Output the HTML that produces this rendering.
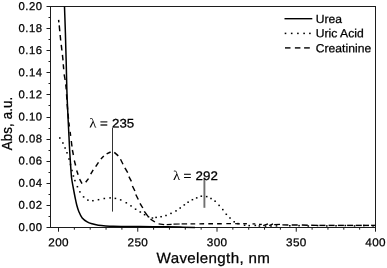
<!DOCTYPE html><html><head><meta charset="utf-8"><style>html,body{margin:0;padding:0;background:#fff;overflow:hidden}body{width:387px;height:268px;position:relative}</style></head><body><svg width="387" height="268" viewBox="0 0 387 268" style="position:absolute;left:0;top:0">
<rect width="387" height="268" fill="#fff"/>
<g stroke="#1c1c1c" stroke-width="1" fill="none">
<rect x="50.5" y="6.5" width="325.0" height="221.0"/>
<line x1="46.5" y1="227.5" x2="50.5" y2="227.5"/>
<line x1="48.5" y1="216.5" x2="50.5" y2="216.5"/>
<line x1="46.5" y1="205.5" x2="50.5" y2="205.5"/>
<line x1="48.5" y1="194.5" x2="50.5" y2="194.5"/>
<line x1="46.5" y1="183.5" x2="50.5" y2="183.5"/>
<line x1="48.5" y1="172.5" x2="50.5" y2="172.5"/>
<line x1="46.5" y1="161.5" x2="50.5" y2="161.5"/>
<line x1="48.5" y1="150.5" x2="50.5" y2="150.5"/>
<line x1="46.5" y1="139.5" x2="50.5" y2="139.5"/>
<line x1="48.5" y1="128.5" x2="50.5" y2="128.5"/>
<line x1="46.5" y1="117.5" x2="50.5" y2="117.5"/>
<line x1="48.5" y1="105.5" x2="50.5" y2="105.5"/>
<line x1="46.5" y1="94.5" x2="50.5" y2="94.5"/>
<line x1="48.5" y1="83.5" x2="50.5" y2="83.5"/>
<line x1="46.5" y1="72.5" x2="50.5" y2="72.5"/>
<line x1="48.5" y1="61.5" x2="50.5" y2="61.5"/>
<line x1="46.5" y1="50.5" x2="50.5" y2="50.5"/>
<line x1="48.5" y1="39.5" x2="50.5" y2="39.5"/>
<line x1="46.5" y1="28.5" x2="50.5" y2="28.5"/>
<line x1="48.5" y1="17.5" x2="50.5" y2="17.5"/>
<line x1="46.5" y1="6.5" x2="50.5" y2="6.5"/>
<line x1="58.50" y1="227.5" x2="58.50" y2="231.7"/>
<line x1="74.35" y1="227.5" x2="74.35" y2="229.7"/>
<line x1="90.20" y1="227.5" x2="90.20" y2="229.7"/>
<line x1="106.05" y1="227.5" x2="106.05" y2="229.7"/>
<line x1="121.90" y1="227.5" x2="121.90" y2="229.7"/>
<line x1="137.75" y1="227.5" x2="137.75" y2="231.7"/>
<line x1="153.60" y1="227.5" x2="153.60" y2="229.7"/>
<line x1="169.45" y1="227.5" x2="169.45" y2="229.7"/>
<line x1="185.30" y1="227.5" x2="185.30" y2="229.7"/>
<line x1="201.15" y1="227.5" x2="201.15" y2="229.7"/>
<line x1="217.00" y1="227.5" x2="217.00" y2="231.7"/>
<line x1="232.85" y1="227.5" x2="232.85" y2="229.7"/>
<line x1="248.70" y1="227.5" x2="248.70" y2="229.7"/>
<line x1="264.55" y1="227.5" x2="264.55" y2="229.7"/>
<line x1="280.40" y1="227.5" x2="280.40" y2="229.7"/>
<line x1="296.25" y1="227.5" x2="296.25" y2="231.7"/>
<line x1="312.10" y1="227.5" x2="312.10" y2="229.7"/>
<line x1="327.95" y1="227.5" x2="327.95" y2="229.7"/>
<line x1="343.80" y1="227.5" x2="343.80" y2="229.7"/>
<line x1="359.65" y1="227.5" x2="359.65" y2="229.7"/>
<line x1="375.50" y1="227.5" x2="375.50" y2="231.7"/>
</g>
<path d="M64.50,6.50 C64.58,8.92 64.85,16.58 65.00,21.00 C65.15,25.42 65.27,28.50 65.40,33.00 C65.53,37.50 65.67,43.17 65.80,48.00 C65.93,52.83 66.02,54.83 66.20,62.00 C66.38,69.17 66.67,83.33 66.90,91.00 C67.13,98.67 67.38,103.00 67.60,108.00 C67.82,113.00 67.97,116.17 68.20,121.00 C68.43,125.83 68.75,132.00 69.00,137.00 C69.25,142.00 69.43,146.33 69.70,151.00 C69.97,155.67 70.28,160.50 70.60,165.00 C70.92,169.50 71.15,174.17 71.60,178.00 C72.05,181.83 72.70,184.67 73.30,188.00 C73.90,191.33 74.62,195.13 75.20,198.00 C75.78,200.87 76.17,202.87 76.80,205.20 C77.43,207.53 78.10,209.87 79.00,212.00 C79.90,214.13 80.83,216.35 82.20,218.00 C83.57,219.65 85.55,220.93 87.20,221.90 C88.85,222.87 90.25,223.26 92.10,223.80 C93.95,224.34 96.02,224.80 98.30,225.15 C100.58,225.50 103.32,225.71 105.80,225.90 C108.28,226.09 110.00,226.20 113.20,226.30 C116.40,226.40 120.53,226.45 125.00,226.50 C129.47,226.55 134.17,226.57 140.00,226.60 C145.83,226.63 153.33,226.62 160.00,226.70 C166.67,226.78 174.17,226.97 180.00,227.10 C185.83,227.23 192.50,227.43 195.00,227.50" stroke="#000" stroke-width="1.5" fill="none" stroke-linejoin="round"/>
<g stroke="#000" stroke-width="1.45" fill="none" stroke-linecap="butt">
<line x1="58.60" y1="19.8" x2="58.88" y2="22.3"/>
<line x1="59.23" y1="25.4" x2="59.78" y2="31.2"/>
<line x1="60.14" y1="35" x2="60.72" y2="40.5"/>
<line x1="61.24" y1="44.9" x2="61.91" y2="50.5"/>
<line x1="62.44" y1="54.8" x2="63.03" y2="60.4"/>
<line x1="63.29" y1="64.3" x2="63.69" y2="69.3"/>
<line x1="64.14" y1="74.3" x2="65.13" y2="80"/>
<line x1="65.74" y1="84.4" x2="66.24" y2="89.4"/>
<line x1="66.56" y1="94.3" x2="66.88" y2="99.6"/>
<line x1="67.14" y1="104" x2="67.61" y2="109.5"/>
<line x1="67.98" y1="113.5" x2="68.45" y2="118.7"/>
<line x1="68.78" y1="122.3" x2="69.37" y2="126.5"/>
<line x1="70.13" y1="131.8" x2="70.65" y2="135.8"/>
<line x1="71.29" y1="141" x2="71.97" y2="146.5"/>
<line x1="72.40" y1="150" x2="73.40" y2="155"/>
<line x1="74.30" y1="160.5" x2="75.60" y2="165.5"/>
<line x1="76.70" y1="170.5" x2="78.10" y2="174.8"/>
<line x1="79.6" y1="179.2" x2="82" y2="183.6"/>
<line x1="85.7" y1="182.3" x2="88.5" y2="178.6"/>
<line x1="90.7" y1="174.2" x2="93.2" y2="169.9"/>
<line x1="95.7" y1="166.7" x2="98.5" y2="162.4"/>
<line x1="100.9" y1="159" x2="103.8" y2="156.1"/>
<line x1="106.6" y1="153.9" x2="110.6" y2="152"/>
<line x1="114.3" y1="152.4" x2="118.3" y2="155.9"/>
<line x1="120.5" y1="159.2" x2="123" y2="164.2"/>
<line x1="124.9" y1="167.9" x2="127.7" y2="172.7"/>
<line x1="128.9" y1="176.7" x2="131.4" y2="181.4"/>
<line x1="132.4" y1="186" x2="134.9" y2="191"/>
<line x1="135.8" y1="194.5" x2="138.3" y2="199.5"/>
<line x1="140" y1="203.3" x2="142.8" y2="208"/>
<line x1="144.3" y1="211.4" x2="148" y2="216.4"/>
<line x1="150.5" y1="219.2" x2="154.9" y2="222"/>
<line stroke-width="1.25" x1="158.6" y1="223.9" x2="164.2" y2="224.6"/>
<line stroke-width="1.25" x1="166.7" y1="224.6" x2="171.6" y2="224.4"/>
<line stroke-width="1.25" x1="173.5" y1="224.2" x2="179.7" y2="224.0"/>
<line stroke-width="1.25" x1="181.6" y1="223.9" x2="187.1" y2="223.9"/>
<line stroke-width="1.3" x1="190.5" y1="223.80" x2="195.2" y2="223.79"/>
<line stroke-width="1.3" x1="199.4" y1="223.78" x2="204.1" y2="223.77"/>
<line stroke-width="1.3" x1="208.3" y1="223.76" x2="213.0" y2="223.75"/>
<line stroke-width="1.3" x1="217.1" y1="223.74" x2="221.79999999999998" y2="223.73"/>
<line stroke-width="1.3" x1="226.3" y1="223.72" x2="231.0" y2="223.71"/>
<line stroke-width="1.3" x1="235.2" y1="223.71" x2="239.89999999999998" y2="223.86"/>
<line stroke-width="1.45" x1="282.4" y1="224.87" x2="288.4" y2="224.91"/>
<line stroke-width="1.45" x1="291.7" y1="224.94" x2="297.7" y2="224.98"/>
<line stroke-width="1.45" x1="301.8" y1="225.05" x2="307.8" y2="225.21"/>
<line stroke-width="1.45" x1="311.2" y1="225.30" x2="317.2" y2="225.40"/>
<line stroke-width="1.45" x1="319.4" y1="225.40" x2="325.4" y2="225.40"/>
<line stroke-width="1.45" x1="328.6" y1="225.40" x2="334.6" y2="225.40"/>
<line stroke-width="1.45" x1="337.9" y1="225.40" x2="343.9" y2="225.40"/>
<line stroke-width="1.45" x1="347.1" y1="225.40" x2="353.1" y2="225.40"/>
<line stroke-width="1.45" x1="355.8" y1="225.40" x2="361.8" y2="225.40"/>
<line stroke-width="1.45" x1="363.0" y1="225.40" x2="369.0" y2="225.40"/>
<line stroke-width="1.45" x1="371.1" y1="225.40" x2="375.2" y2="225.40"/>
<line stroke-width="1.3" x1="243.2" y1="223.7" x2="246.9" y2="223.7"/>
<line stroke-width="1.3" x1="252.5" y1="223.9" x2="255.3" y2="223.9"/>
<line stroke-width="1.3" x1="259" y1="224.4" x2="261.8" y2="224.4"/>
<line stroke-width="1.3" x1="263.2" y1="225.6" x2="268" y2="223.8"/>
<line stroke-width="1.3" x1="269.2" y1="225.6" x2="273" y2="223.9"/>
<line stroke-width="1.3" x1="274.2" y1="224.6" x2="280" y2="224.3"/>
</g>
<g fill="#000">
<rect x="59.00" y="137.25" width="1.6" height="1.5"/>
<rect x="62.10" y="142.25" width="1.6" height="1.5"/>
<rect x="64.30" y="147.25" width="1.6" height="1.5"/>
<rect x="66.20" y="152.05" width="1.6" height="1.5"/>
<rect x="68.20" y="158.25" width="1.6" height="1.5"/>
<rect x="69.70" y="163.75" width="1.6" height="1.5"/>
<rect x="71.20" y="169.75" width="1.6" height="1.5"/>
<rect x="72.60" y="175.25" width="1.6" height="1.5"/>
<rect x="74.10" y="179.85" width="1.6" height="1.5"/>
<rect x="76.60" y="185.95" width="1.6" height="1.5"/>
<rect x="79.10" y="191.15" width="1.6" height="1.5"/>
<rect x="82.80" y="196.15" width="1.6" height="1.5"/>
<rect x="87.10" y="199.35" width="1.6" height="1.5"/>
<rect x="92.10" y="199.95" width="1.6" height="1.5"/>
<rect x="97.70" y="198.95" width="1.6" height="1.5"/>
<rect x="103.50" y="197.75" width="1.6" height="1.5"/>
<rect x="109.30" y="197.15" width="1.6" height="1.5"/>
<rect x="114.60" y="197.65" width="1.6" height="1.5"/>
<rect x="119.90" y="199.15" width="1.6" height="1.5"/>
<rect x="125.50" y="202.05" width="1.6" height="1.5"/>
<rect x="130.20" y="205.15" width="1.6" height="1.5"/>
<rect x="134.80" y="208.45" width="1.6" height="1.5"/>
<rect x="139.50" y="211.25" width="1.6" height="1.5"/>
<rect x="143.80" y="213.95" width="1.6" height="1.5"/>
<rect x="147.70" y="216.05" width="1.6" height="1.5"/>
<rect x="151.60" y="217.25" width="1.6" height="1.5"/>
<rect x="155.30" y="216.65" width="1.6" height="1.5"/>
<rect x="160.30" y="215.95" width="1.6" height="1.5"/>
<rect x="165.20" y="214.75" width="1.6" height="1.5"/>
<rect x="170.20" y="212.65" width="1.6" height="1.5"/>
<rect x="175.20" y="210.15" width="1.6" height="1.5"/>
<rect x="179.40" y="207.25" width="1.6" height="1.5"/>
<rect x="183.50" y="204.15" width="1.6" height="1.5"/>
<rect x="187.30" y="201.45" width="1.6" height="1.5"/>
<rect x="191.60" y="198.95" width="1.6" height="1.5"/>
<rect x="195.90" y="197.15" width="1.6" height="1.5"/>
<rect x="200.50" y="195.45" width="1.6" height="1.5"/>
<rect x="205.90" y="195.85" width="1.6" height="1.5"/>
<rect x="210.20" y="197.75" width="1.6" height="1.5"/>
<rect x="214.30" y="200.45" width="1.6" height="1.5"/>
<rect x="218.30" y="204.65" width="1.6" height="1.5"/>
<rect x="222.00" y="208.85" width="1.6" height="1.5"/>
<rect x="225.50" y="213.55" width="1.6" height="1.5"/>
<rect x="229.20" y="217.25" width="1.6" height="1.5"/>
<rect x="233.40" y="221.05" width="1.6" height="1.5"/>
<rect x="237.20" y="222.85" width="1.6" height="1.5"/>
<rect x="243.80" y="224.45" width="1.6" height="1.5"/>
<rect x="248.40" y="224.85" width="1.6" height="1.5"/>
<rect x="254.50" y="224.65" width="1.6" height="1.5"/>
<rect x="258.60" y="225.25" width="1.6" height="1.5"/>
<rect x="264.70" y="225.35" width="1.6" height="1.5"/>
<rect x="270.20" y="225.25" width="1.6" height="1.5"/>
<rect x="275.70" y="225.15" width="1.6" height="1.5"/>
<rect x="289.00" y="225.01" width="1.6" height="1.5"/>
<rect x="298.25" y="224.87" width="1.6" height="1.5"/>
<rect x="307.50" y="225.27" width="1.6" height="1.5"/>
<rect x="316.75" y="224.81" width="1.6" height="1.5"/>
<rect x="326.00" y="225.18" width="1.6" height="1.5"/>
<rect x="335.25" y="225.04" width="1.6" height="1.5"/>
<rect x="344.50" y="224.80" width="1.6" height="1.5"/>
<rect x="353.75" y="225.16" width="1.6" height="1.5"/>
<rect x="363.00" y="224.78" width="1.6" height="1.5"/>
<rect x="372.25" y="225.10" width="1.6" height="1.5"/>
</g>
<line x1="112.5" y1="127.8" x2="112.5" y2="211.6" stroke="#333" stroke-width="1"/>
<line x1="204.4" y1="177.5" x2="204.4" y2="207.8" stroke="#707070" stroke-width="1.9"/>
<line x1="284.5" y1="18.7" x2="312.3" y2="18.7" stroke="#000" stroke-width="1.4"/>
<rect x="284.70" y="32.65" width="1.6" height="1.5" fill="#000"/>
<rect x="290.90" y="32.65" width="1.6" height="1.5" fill="#000"/>
<rect x="297.10" y="32.65" width="1.6" height="1.5" fill="#000"/>
<rect x="303.30" y="32.65" width="1.6" height="1.5" fill="#000"/>
<rect x="309.10" y="32.65" width="1.6" height="1.5" fill="#000"/>
<line x1="285" y1="47.9" x2="290.5" y2="47.9" stroke="#000" stroke-width="1.4"/>
<line x1="294.9" y1="47.9" x2="300.4" y2="47.9" stroke="#000" stroke-width="1.4"/>
<line x1="304.1" y1="47.9" x2="309.8" y2="47.9" stroke="#000" stroke-width="1.4"/>
<text font-family="Liberation Sans, Arial, sans-serif" fill="#000" stroke="#000" stroke-width="0.25" font-size="11.8" text-anchor="start" transform="translate(315.80,23.00) rotate(0.03) scale(1.03,1)">Urea</text>
<text font-family="Liberation Sans, Arial, sans-serif" fill="#000" stroke="#000" stroke-width="0.25" font-size="11.8" text-anchor="start" transform="translate(315.80,37.30) rotate(0.03) scale(1.03,1)">Uric Acid</text>
<text font-family="Liberation Sans, Arial, sans-serif" fill="#000" stroke="#000" stroke-width="0.25" font-size="11.8" text-anchor="start" transform="translate(315.80,52.20) rotate(0.03) scale(1.03,1)">Creatinine</text>
<text font-family="Liberation Sans, Arial, sans-serif" fill="#000" stroke="#000" stroke-width="0.25" font-size="11.3" letter-spacing="0.5" text-anchor="end" transform="translate(42.50,230.90) rotate(0.03)">0.00</text>
<text font-family="Liberation Sans, Arial, sans-serif" fill="#000" stroke="#000" stroke-width="0.25" font-size="11.3" letter-spacing="0.5" text-anchor="end" transform="translate(42.50,208.80) rotate(0.03)">0.02</text>
<text font-family="Liberation Sans, Arial, sans-serif" fill="#000" stroke="#000" stroke-width="0.25" font-size="11.3" letter-spacing="0.5" text-anchor="end" transform="translate(42.50,186.70) rotate(0.03)">0.04</text>
<text font-family="Liberation Sans, Arial, sans-serif" fill="#000" stroke="#000" stroke-width="0.25" font-size="11.3" letter-spacing="0.5" text-anchor="end" transform="translate(42.50,164.60) rotate(0.03)">0.06</text>
<text font-family="Liberation Sans, Arial, sans-serif" fill="#000" stroke="#000" stroke-width="0.25" font-size="11.3" letter-spacing="0.5" text-anchor="end" transform="translate(42.50,142.50) rotate(0.03)">0.08</text>
<text font-family="Liberation Sans, Arial, sans-serif" fill="#000" stroke="#000" stroke-width="0.25" font-size="11.3" letter-spacing="0.5" text-anchor="end" transform="translate(42.50,120.40) rotate(0.03)">0.10</text>
<text font-family="Liberation Sans, Arial, sans-serif" fill="#000" stroke="#000" stroke-width="0.25" font-size="11.3" letter-spacing="0.5" text-anchor="end" transform="translate(42.50,98.30) rotate(0.03)">0.12</text>
<text font-family="Liberation Sans, Arial, sans-serif" fill="#000" stroke="#000" stroke-width="0.25" font-size="11.3" letter-spacing="0.5" text-anchor="end" transform="translate(42.50,76.20) rotate(0.03)">0.14</text>
<text font-family="Liberation Sans, Arial, sans-serif" fill="#000" stroke="#000" stroke-width="0.25" font-size="11.3" letter-spacing="0.5" text-anchor="end" transform="translate(42.50,54.10) rotate(0.03)">0.16</text>
<text font-family="Liberation Sans, Arial, sans-serif" fill="#000" stroke="#000" stroke-width="0.25" font-size="11.3" letter-spacing="0.5" text-anchor="end" transform="translate(42.50,32.00) rotate(0.03)">0.18</text>
<text font-family="Liberation Sans, Arial, sans-serif" fill="#000" stroke="#000" stroke-width="0.25" font-size="11.3" letter-spacing="0.5" text-anchor="end" transform="translate(42.50,9.90) rotate(0.03)">0.20</text>
<text font-family="Liberation Sans, Arial, sans-serif" fill="#000" stroke="#000" stroke-width="0.25" font-size="11.4" letter-spacing="0.35" text-anchor="middle" transform="translate(58.60,246.20) rotate(0.03) scale(1.03,1)">200</text>
<text font-family="Liberation Sans, Arial, sans-serif" fill="#000" stroke="#000" stroke-width="0.25" font-size="11.4" letter-spacing="0.35" text-anchor="middle" transform="translate(137.85,246.20) rotate(0.03) scale(1.03,1)">250</text>
<text font-family="Liberation Sans, Arial, sans-serif" fill="#000" stroke="#000" stroke-width="0.25" font-size="11.4" letter-spacing="0.35" text-anchor="middle" transform="translate(217.10,246.20) rotate(0.03) scale(1.03,1)">300</text>
<text font-family="Liberation Sans, Arial, sans-serif" fill="#000" stroke="#000" stroke-width="0.25" font-size="11.4" letter-spacing="0.35" text-anchor="middle" transform="translate(296.35,246.20) rotate(0.03) scale(1.03,1)">350</text>
<text font-family="Liberation Sans, Arial, sans-serif" fill="#000" stroke="#000" stroke-width="0.25" font-size="11.4" letter-spacing="0.35" text-anchor="middle" transform="translate(375.60,246.20) rotate(0.03) scale(1.03,1)">400</text>
<text font-family="Liberation Sans, Arial, sans-serif" fill="#000" stroke="#000" stroke-width="0.25" font-size="12.4" text-anchor="start" transform="translate(89.30,127.40) rotate(0.03) scale(1.1,1)"><tspan font-family="Liberation Serif, serif" font-size="13.5" stroke-width="0">λ</tspan></text>
<text font-family="Liberation Sans, Arial, sans-serif" fill="#000" stroke="#000" stroke-width="0.25" font-size="12.4" text-anchor="start" transform="translate(100.00,127.40) rotate(0.03) scale(1.075,1)">=</text>
<text font-family="Liberation Sans, Arial, sans-serif" fill="#000" stroke="#000" stroke-width="0.25" font-size="12.4" text-anchor="start" transform="translate(112.00,127.40) rotate(0.03) scale(1.075,1)">235</text>
<text font-family="Liberation Sans, Arial, sans-serif" fill="#000" stroke="#000" stroke-width="0.25" font-size="12.4" text-anchor="start" transform="translate(172.90,179.90) rotate(0.03) scale(1.1,1)"><tspan font-family="Liberation Serif, serif" font-size="13.5" stroke-width="0">λ</tspan></text>
<text font-family="Liberation Sans, Arial, sans-serif" fill="#000" stroke="#000" stroke-width="0.25" font-size="12.4" text-anchor="start" transform="translate(183.60,179.90) rotate(0.03) scale(1.075,1)">=</text>
<text font-family="Liberation Sans, Arial, sans-serif" fill="#000" stroke="#000" stroke-width="0.25" font-size="12.4" text-anchor="start" transform="translate(195.60,179.90) rotate(0.03) scale(1.075,1)">292</text>
<text font-family="Liberation Sans, Arial, sans-serif" fill="#000" stroke="#000" stroke-width="0.25" font-size="14.8" letter-spacing="0.33" text-anchor="start" transform="translate(156.60,263.00) rotate(0.03) scale(1.024,1)">Wavelength, nm</text>
<text font-family="Liberation Sans, Arial, sans-serif" fill="#000" stroke="#000" stroke-width="0.25" font-size="13.9" letter-spacing="0.15" text-anchor="start" transform="translate(11.90,150.20) rotate(-90) scale(0.955,1)">Abs, a.u.</text>
</svg></body></html>
